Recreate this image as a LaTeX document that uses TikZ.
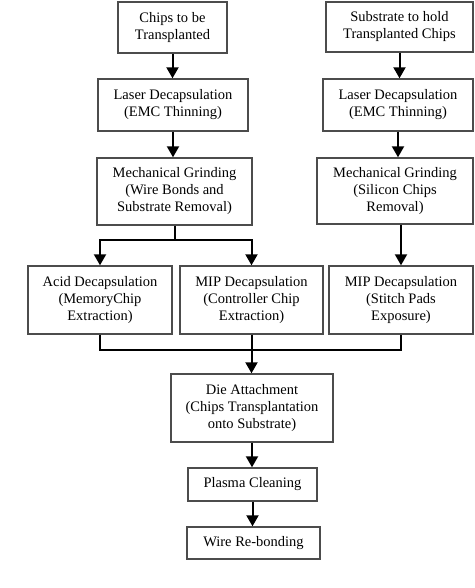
\documentclass[tikz,border=0pt]{standalone}
\usepackage{fontspec}
\setmainfont{Liberation Serif}
\usetikzlibrary{arrows.meta}
\tikzset{
  box/.style={draw=black!70, line width=1.4pt, rectangle, inner sep=0pt, align=center,
    font=\fontsize{14.5}{17}\selectfont},
  arr/.style={line width=2pt, -{Triangle[length=11pt,width=12pt]}},
  ln/.style={line width=2pt},
}
\begin{document}
\begin{tikzpicture}[x=1pt,y=1pt]
\useasboundingbox (0,0) rectangle (474,-588);
\node[box, minimum width=109pt, minimum height=51pt] (chips) at (172.5,-27.5) {Chips to be\\Transplanted};
\node[box, minimum width=147pt, minimum height=50pt] (subs) at (399.5,-27) {Substrate to hold\\Transplanted Chips};
\node[box, minimum width=150pt, minimum height=52pt] (laserL) at (173,-105) {Laser Decapsulation\\(EMC Thinning)};
\node[box, minimum width=150pt, minimum height=52pt] (laserR) at (398,-105) {Laser Decapsulation\\(EMC Thinning)};
\node[box, minimum width=155pt, minimum height=67pt] (mechL) at (174.5,-191.5) {Mechanical Grinding\\(Wire Bonds and\\Substrate Removal)};
\node[box, minimum width=156pt, minimum height=66pt] (mechR) at (395,-191) {Mechanical Grinding\\(Silicon Chips\\Removal)};
\node[box, minimum width=144pt, minimum height=68pt] (acid) at (100,-300) {Acid Decapsulation\\(MemoryChip\\Extraction)};
\node[box, minimum width=143pt, minimum height=68pt] (mipC) at (251.5,-300) {MIP Decapsulation\\(Controller Chip\\Extraction)};
\node[box, minimum width=144pt, minimum height=68pt] (mipS) at (401,-300) {MIP Decapsulation\\(Stitch Pads\\Exposure)};
\node[box, minimum width=162pt, minimum height=68pt] (die) at (252,-408) {Die Attachment\\(Chips Transplantation\\onto Substrate)};
\node[box, minimum width=129pt, minimum height=33pt] (plasma) at (252.5,-484.5) {Plasma Cleaning};
\node[box, minimum width=133pt, minimum height=32pt] (wire) at (253.5,-543) {Wire Re-bonding};

\draw[arr] (chips.south) -- (chips.south |- laserL.north);
\draw[arr] (laserL.south) -- (laserL.south |- mechL.north);
\draw[arr] (subs.south) -- (subs.south |- laserR.north);
\draw[arr] (laserR.south) -- (laserR.south |- mechR.north);

\coordinate (split) at (175,-240);
\draw[ln] (mechL.south -| split) -- (split);
\draw[arr] (split) -| (acid.north);
\draw[arr] (split) -| (mipC.north);
\draw[arr] (mechR.south -| mipS.north) -- (mipS.north);

\coordinate (merge) at (251.5,-350);
\draw[ln] (acid.south) |- (merge) -| (mipS.south);
\draw[arr] (mipC.south) -- (mipC.south |- die.north);
\draw[arr] (die.south) -- (die.south |- plasma.north);
\draw[arr] (plasma.south) -- (plasma.south |- wire.north);
\end{tikzpicture}
\end{document}
